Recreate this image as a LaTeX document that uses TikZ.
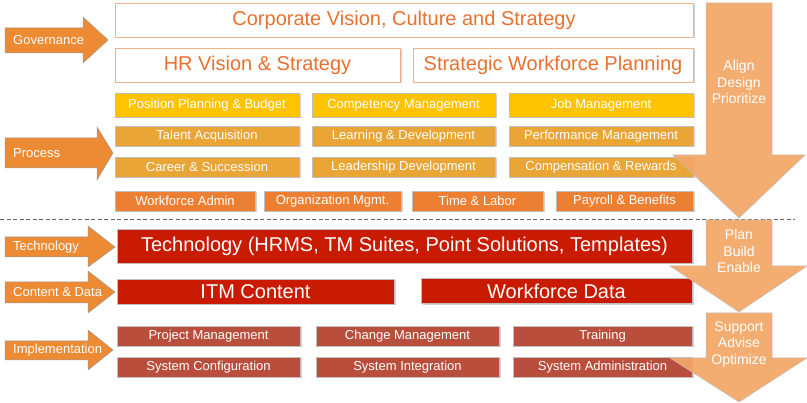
\documentclass[tikz,border=0pt]{standalone}
\usepackage{fontspec}
\setmainfont{Liberation Sans}
\usetikzlibrary{positioning}
\usetikzlibrary{shadows}
\definecolor{cOrangeText}{HTML}{E9712F}
\definecolor{cOrangeLine}{HTML}{F4B183}
\definecolor{cArrow}{HTML}{ED8A34}
\definecolor{cArrowLight}{HTML}{F3A766}
\definecolor{cYellow}{HTML}{FFC300}
\definecolor{cGold}{HTML}{E9A535}
\definecolor{cOrange}{HTML}{ED7F33}
\definecolor{cRed}{HTML}{C81B02}
\definecolor{cBrown}{HTML}{B94E3C}

\tikzset{
  soft shadow/.style={drop shadow={shadow xshift=1.5pt, shadow yshift=-1.5pt, opacity=0.3, fill=black!60}},
  shade box/.style={inner sep=0pt, text=white, draw=black!25, soft shadow},
  topbox/.style={inner sep=0pt, draw=cOrangeLine, fill=white, text=cOrangeText, soft shadow,
    font=\fontsize{20}{24}\selectfont, minimum height=34pt},
  ybox/.style={shade box, fill=cYellow, font=\fontsize{13}{15}\selectfont, minimum height=24pt},
  gbox/.style={shade box, fill=cGold, font=\fontsize{13}{15}\selectfont, minimum height=20pt},
  obox/.style={shade box, fill=cOrange, font=\fontsize{13}{15}\selectfont, minimum height=20pt},
  rbox/.style={shade box, fill=cRed, font=\fontsize{20}{24}\selectfont},
  ibox/.style={shade box, fill=cBrown, font=\fontsize{13}{15}\selectfont, minimum height=20pt},
  larrow/.style={fill=cArrow, draw=black!40, line width=0.5pt},
  rarrow/.style={fill=cArrowLight, fill opacity=0.93, draw=black!25, line width=0.5pt},
  lbl/.style={inner sep=0pt, anchor=west, text=white, font=\fontsize{13}{15}\selectfont},
  rlbl/.style={inner sep=0pt, align=center, text=white, font=\fontsize{14}{16.7}\selectfont}
}

\begin{document}
\begin{tikzpicture}[x=1pt, y=-1pt]
    \useasboundingbox (0,0) rectangle (807,403);

    % governance
    \node[topbox, minimum width=578pt] (corp) at (404,20) {Corporate Vision, Culture and Strategy};
    \node[topbox, minimum width=285pt] (hrvis) at (257.5,65) {HR Vision \& Strategy};
    \node[topbox, minimum width=280pt] (swp) at (553,65) {Strategic Workforce Planning};

    % process
    \node[ybox, minimum width=184pt] (ppb) at (207,105) {Position Planning \& Budget};
    \node[ybox, minimum width=183pt] (comp) at (403.5,105) {Competency Management};
    \node[ybox, minimum width=184pt] (job) at (601,105) {Job Management};

    \node[gbox, minimum width=184pt] (talent) at (207,136) {Talent Acquisition};
    \node[gbox, minimum width=183pt] (learn) at (403.5,136) {Learning \& Development};
    \node[gbox, minimum width=184pt] (perf) at (601,136) {Performance Management};

    \node[gbox, minimum width=184pt] (career) at (207,167) {Career \& Succession};
    \node[gbox, minimum width=183pt] (lead) at (403.5,167) {Leadership Development};
    \node[gbox, minimum width=184pt] (reward) at (601,167) {Compensation \& Rewards};

    \node[obox, minimum width=140pt] (wfadmin) at (185,201) {Workforce Admin};
    \node[obox, minimum width=137pt] (orgm) at (332.5,201) {Organization Mgmt.};
    \node[obox, minimum width=131pt] (time) at (477.5,201) {Time \& Labor};
    \node[obox, minimum width=137pt] (payroll) at (624.5,201) {Payroll \& Benefits};

    % separator
    \coordinate (sepL) at (0,219);
    \coordinate (sepR) at (795,219);
    \draw[black!60, line width=0.9pt, dash pattern=on 4pt off 2.5pt] (sepL) -- (sepR);

    % technology and content
    \node[rbox, minimum width=575pt, minimum height=34pt] (tech) at (404.5,246) {Technology (HRMS, TM Suites, Point Solutions, Templates)};
    \node[rbox, minimum width=277pt, minimum height=25pt] (itm) at (255.5,291.5) {ITM Content};
    \node[rbox, minimum width=271pt, minimum height=25pt] (wfdata) at (556.5,291) {Workforce Data};

    % implementation
    \node[ibox, minimum width=183pt] (pm) at (208.5,336) {Project Management};
    \node[ibox, minimum width=183pt] (cm) at (407.5,336) {Change Management};
    \node[ibox, minimum width=179pt] (train) at (602.5,336) {Training};
    \node[ibox, minimum width=183pt] (sconf) at (208.5,367) {System Configuration};
    \node[ibox, minimum width=183pt] (sint) at (407.5,367) {System Integration};
    \node[ibox, minimum width=179pt] (sadm) at (602.5,367) {System Administration};

    % left arrows
    \draw[larrow] (5,28) -- (83,28) -- (83,17) -- (108,40) -- (83,63) -- (83,53) -- (5,53) -- cycle;
    \draw[larrow] (5,138) -- (97,138) -- (97,127) -- (113,153) -- (97,180) -- (97,168) -- (5,168) -- cycle;
    \draw[larrow] (5,237) -- (88,237) -- (88,226) -- (115,247) -- (88,267) -- (88,257) -- (5,257) -- cycle;
    \draw[larrow] (5,282) -- (88,282) -- (88,271) -- (115,292) -- (88,313) -- (88,303) -- (5,303) -- cycle;
    \draw[larrow] (5,341) -- (88,341) -- (88,330) -- (113,350) -- (88,370) -- (88,360) -- (5,360) -- cycle;
    \node[lbl] (lgov) at (13,40.5) {Governance};
    \node[lbl] (lproc) at (13,153) {Process};
    \node[lbl] (ltech) at (13,247) {Technology};
    \node[lbl] (lcont) at (13,292.5) {Content \& Data};
    \node[lbl] (limpl) at (13,350.5) {Implementation};

    % right arrows
    \draw[rarrow] (706,3) -- (772,3) -- (772,155) -- (805,155) -- (739,218) -- (673,155) -- (706,155) -- cycle;
    \draw[rarrow] (706,220) -- (772,220) -- (772,266) -- (807,266) -- (739,312) -- (670,266) -- (706,266) -- cycle;
    \draw[rarrow] (706,313) -- (772,313) -- (772,358) -- (807,358) -- (739,402) -- (670,358) -- (706,358) -- cycle;
    \node[rlbl] (ralign) at (739,82) {Align\\Design\\Prioritize};
    \node[rlbl] (rplan) at (739,251) {Plan\\Build\\Enable};
    \node[rlbl] (rsup) at (739,344.5) {Support\\Advise\\Optimize};
\end{tikzpicture}
\end{document}
